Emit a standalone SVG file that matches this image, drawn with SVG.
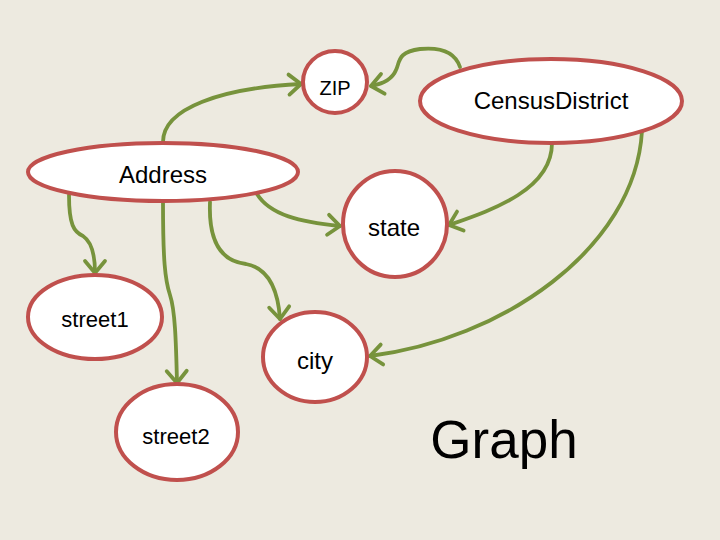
<svg xmlns="http://www.w3.org/2000/svg" width="720" height="540" viewBox="0 0 720 540">
<style>
.node{fill:#ffffff;stroke:#C0504D;stroke-width:4}
.lbl{font-family:"Liberation Sans",Arial,sans-serif;font-size:24px;fill:#000;text-anchor:middle}
.edge{fill:none;stroke:#77933C;stroke-width:3.8;stroke-linecap:round;marker-end:url(#arr)}
</style>
<defs>
<marker id="arr" markerUnits="userSpaceOnUse" markerWidth="24" markerHeight="24" refX="0" refY="0" viewBox="-14 -12 18 24" orient="auto" overflow="visible">
<path d="M-12,-10 L0,0 L-12,10" fill="none" stroke="#77933C" stroke-width="3.8" stroke-linecap="round" stroke-linejoin="round"/>
</marker>
</defs>
<rect width="720" height="540" fill="#EDEAE0"/>
<g id="connectors">
<path class="edge" d="M163,142 C163,108 222,88 301,84"/>
<path class="edge" d="M460,67 C455,52 440,47 420,49 C397,52 400,62 396,70 C392,80 382,84 371,86"/>
<path class="edge" d="M552,143 C552,190 492,210 449,225"/>
<path class="edge" d="M642,131 C635,250 500,340 370,356"/>
<path class="edge" d="M257,194 C270,215 300,222 340,226"/>
<path class="edge" d="M210,202 C208,250 228,262 246,264 C268,268 278,290 280,319"/>
<path class="edge" d="M69,195 C69,225 74,232 83,236 C92,242 95,255 95,273"/>
<path class="edge" d="M163,202 C163,260 165,280 170,295 C175,310 176,340 177,383"/>
</g>
<g id="ZIP"><ellipse class="node" cx="335" cy="82" rx="32" ry="31"/><text class="lbl" x="335" y="95" style="font-size:20px">ZIP</text></g>
<g id="CensusDistrict"><ellipse class="node" cx="551" cy="101" rx="131" ry="42"/><text class="lbl" x="551" y="109">CensusDistrict</text></g>
<g id="Address"><ellipse class="node" cx="163" cy="172" rx="135" ry="29"/><text class="lbl" x="163" y="183">Address</text></g>
<g id="state"><ellipse class="node" cx="395" cy="224" rx="52" ry="53"/><text class="lbl" x="394" y="236">state</text></g>
<g id="city"><ellipse class="node" cx="315" cy="357" rx="52" ry="45"/><text class="lbl" x="315" y="369">city</text></g>
<g id="street1"><ellipse class="node" cx="95" cy="317" rx="67" ry="42"/><text class="lbl" x="95" y="327" style="font-size:22px">street1</text></g>
<g id="street2"><ellipse class="node" cx="177" cy="432" rx="61" ry="48"/><text class="lbl" x="176" y="444" style="font-size:22px">street2</text></g>
<text x="504" y="458" style="font-family:'Liberation Sans',Arial,sans-serif;font-size:53px;fill:#000;text-anchor:middle">Graph</text>
</svg>
